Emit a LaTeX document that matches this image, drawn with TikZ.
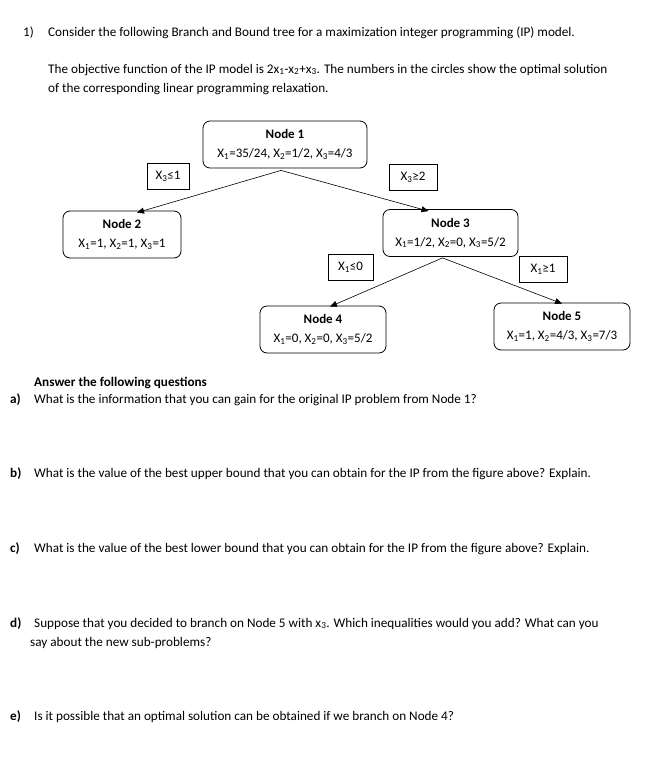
\documentclass[tikz,border=0pt]{standalone}
\usepackage{fontspec}
\setmainfont{Carlito}
\usetikzlibrary{arrows.meta}

\tikzset{
  bbnode/.style={draw, line width=0.8pt, rounded corners=7pt, align=center,
    minimum height=47pt, inner sep=0pt, font=\fontsize{13}{19}\selectfont},
  cutbox/.style={draw, line width=0.7pt, minimum height=26pt, inner sep=0pt,
    font=\fontsize{13}{14}\selectfont},
  branch/.style={-{Triangle[length=7pt,width=6pt]}, line width=0.6pt},
  txt/.style={anchor=base west, inner sep=0pt, font=\fontsize{13.2}{15}\selectfont},
}

\begin{document}
\begin{tikzpicture}[x=1pt, y=-1pt]
  \useasboundingbox (0,0) rectangle (652,758);

  % ---------- statement ----------
  \node[txt] (num) at (23,36) {1)};
  \node[txt] (intro) at (48,36) {Consider the following Branch and Bound tree for a maximization integer programming (IP) model.};
  \node[txt] (obj1) at (48,73) {The objective function of the IP model is 2x\textsubscript{1}-x\textsubscript{2}+x\textsubscript{3}. The numbers in the circles show the optimal solution};
  \node[txt] (obj2) at (48,92) {of the corresponding linear programming relaxation.};

  % ---------- tree nodes ----------
  \node[bbnode, minimum width=164pt] (n1) at (285,144.5) {\textbf{Node 1}\\X\textsubscript{1}=35/24, X\textsubscript{2}=1/2, X\textsubscript{3}=4/3};
  \node[bbnode, minimum width=118pt] (n2) at (122,234.5) {\textbf{Node 2}\\X\textsubscript{1}=1, X\textsubscript{2}=1, X\textsubscript{3}=1};
  \node[bbnode, minimum width=135pt] (n3) at (450.5,233) {\textbf{Node 3}\\X\textsubscript{1}=1/2, X\textsubscript{2}=0, X\textsubscript{3}=5/2};
  \node[bbnode, minimum width=126pt] (n4) at (323,329.5) {\textbf{Node 4}\\X\textsubscript{1}=0, X\textsubscript{2}=0, X\textsubscript{3}=5/2};
  \node[bbnode, minimum width=136pt] (n5) at (562,326.5) {\textbf{Node 5}\\X\textsubscript{1}=1, X\textsubscript{2}=4/3, X\textsubscript{3}=7/3};

  % ---------- branching constraints ----------
  \node[cutbox, minimum width=42pt] (c31) at (168,176) {X\textsubscript{3}≤1};
  \node[cutbox, minimum width=48pt] (c32) at (413,177.5) {X\textsubscript{3}≥2};
  \node[cutbox, minimum width=45pt] (c10) at (350.5,267.5) {X\textsubscript{1}≤0};
  \node[cutbox, minimum width=48pt] (c11) at (543,269.5) {X\textsubscript{1}≥1};

  % ---------- branches ----------
  \draw[branch] ([xshift=-4pt,yshift=-2pt]n1.south) -- ([xshift=15pt,yshift=-2pt]n2.north);
  \draw[branch] ([xshift=-4pt,yshift=-2pt]n1.south) -- ([xshift=-22pt,yshift=-2pt]n3.north);
  \draw[branch] ([xshift=-8pt,yshift=-1pt]n3.south) -- ([xshift=7pt,yshift=-1pt]n4.north);
  \draw[branch] ([xshift=-8pt,yshift=-1pt]n3.south) -- ([yshift=-1pt]n5.north);

  % ---------- questions ----------
  \node[txt] (ask) at (34,386) {\textbf{Answer the following questions}};
  \node[txt] (qa) at (10,403) {\textbf{a)}};
  \node[txt] (ta) at (34,403) {What is the information that you can gain for the original IP problem from Node 1?};
  \node[txt] (qb) at (10,477) {\textbf{b)}};
  \node[txt] (tb) at (34,477) {What is the value of the best upper bound that you can obtain for the IP from the figure above? Explain.};
  \node[txt] (qc) at (10,552) {\textbf{c)}};
  \node[txt] (tc) at (34,552) {What is the value of the best lower bound that you can obtain for the IP from the figure above? Explain.};
  \node[txt] (qd) at (10,627) {\textbf{d)}};
  \node[txt] (td) at (34,627) {Suppose that you decided to branch on Node 5 with x\textsubscript{3}. Which inequalities would you add? What can you};
  \node[txt] (td2) at (30,646) {say about the new sub-problems?};
  \node[txt] (qe) at (10,720) {\textbf{e)}};
  \node[txt] (te) at (34,720) {Is it possible that an optimal solution can be obtained if we branch on Node 4?};
\end{tikzpicture}
\end{document}
